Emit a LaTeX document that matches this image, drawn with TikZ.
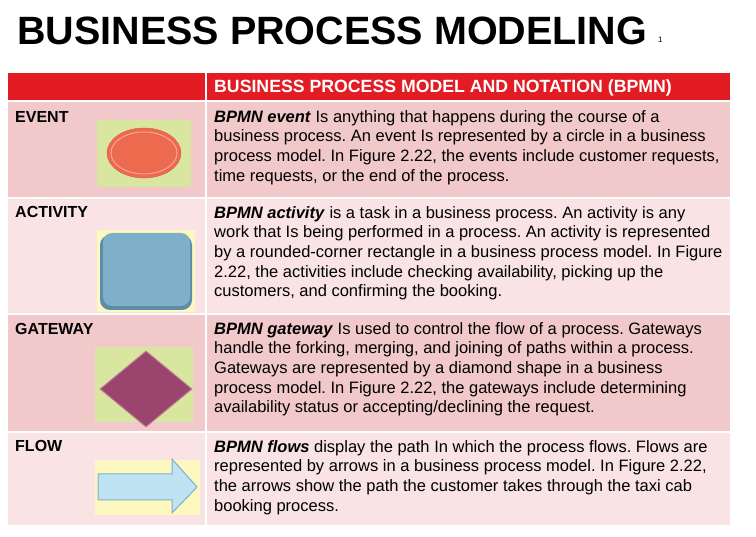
\documentclass[tikz,border=0pt]{standalone}
\usepackage{fontspec}
\setmainfont{Liberation Sans}
\usetikzlibrary{shapes.geometric}
\frenchspacing
\definecolor{hdr}{HTML}{E31B23}
\definecolor{rowd}{HTML}{F2C9CB}
\definecolor{rowl}{HTML}{F9E3E4}
\definecolor{grn}{HTML}{D8E6A0}
\definecolor{ylw}{HTML}{FDF7C0}
\definecolor{evf}{RGB}{238,106,78}
\definecolor{evd}{RGB}{220,90,65}
\definecolor{acd}{RGB}{95,140,165}
\definecolor{acf}{RGB}{127,176,201}
\definecolor{gwf}{RGB}{155,68,110}
\definecolor{gwd}{RGB}{190,120,150}
\definecolor{flf}{RGB}{191,227,242}
\tikzset{x=1pt,y=-1pt,
 lbl/.style={anchor=north west,font=\bfseries\fontsize{16}{18}\selectfont,inner sep=0},
 body/.style={anchor=north west,align=left,font=\fontsize{16.5}{19.7}\selectfont,inner sep=0}}
\begin{document}
\begin{tikzpicture}
\useasboundingbox (0,0) rectangle (756,537);
\fill[white] (0,0) rectangle (756,537);
\node[anchor=west,inner sep=0,font=\bfseries\fontsize{39.5}{40}\selectfont] (title) at (17,31) {BUSINESS PROCESS MODELING};
\node[anchor=west,inner sep=0,font=\fontsize{8}{8}\selectfont] (num) at (658,40) {1};
\fill[hdr] (8,73) rectangle (730,100);
\fill[rowd] (8,102) rectangle (730,197);
\fill[rowl] (8,199) rectangle (730,313);
\fill[rowd] (8,315) rectangle (730,431);
\fill[rowl] (8,433) rectangle (730,525);
\draw[white,line width=2] (206,73) -- (206,525);
\node[anchor=west,inner sep=0,text=white,font=\bfseries\fontsize{17.7}{18}\selectfont] (h) at (214,88) {BUSINESS PROCESS MODEL AND NOTATION (BPMN)};
\node[lbl] (l1) at (15,111) {EVENT};
\node[lbl] (l2) at (15,206) {ACTIVITY};
\node[lbl] (l3) at (15,323) {GATEWAY};
\node[lbl] (l4) at (15,440) {FLOW};
\fill[grn] (97,120) rectangle (191,187);
\node[ellipse,fill=evf,draw=evd,minimum width=74,minimum height=50,inner sep=0] (ev) at (144,153) {};
\draw[white,opacity=.4,line width=1] (144,153) ellipse [x radius=33,y radius=21];
\fill[ylw] (97,230) rectangle (195,312);
\fill[acd,rounded corners=10] (100,235) rectangle (192,310);
\fill[acf,rounded corners=9] (103,233) rectangle (190,306);
\fill[grn] (95,347) rectangle (193,422);
\node[diamond,fill=gwf,draw=gwd,line width=1,minimum width=92,minimum height=76,inner sep=0] (gw) at (146,389) {};
\fill[ylw] (95,460) rectangle (200,515);
\draw[fill=flf,draw=acf,line width=1]
 (98,474) -- (172,474) -- (172,459) -- (197,487) -- (172,513) -- (172,500) -- (98,500) -- cycle;
\node[body] (t1) at (214,110) {\textbf{\textit{BPMN event}} Is anything that happens during the course of a\\business process. An event Is represented by a circle in a business\\process model. In Figure 2.22, the events include customer requests,\\time requests, or the end of the process.};
\node[body] (t2) at (214,206) {\textbf{\textit{BPMN activity}} is a task in a business process. An activity is any\\work that Is being performed in a process. An activity is represented\\by a rounded-corner rectangle in a business process model. In Figure\\2.22, the activities include checking availability, picking up the\\customers, and confirming the booking.};
\node[body] (t3) at (214,322) {\textbf{\textit{BPMN gateway}} Is used to control the flow of a process. Gateways\\handle the forking, merging, and joining of paths within a process.\\Gateways are represented by a diamond shape in a business\\process model. In Figure 2.22, the gateways include determining\\availability status or accepting/declining the request.};
\node[body] (t4) at (214,440) {\textbf{\textit{BPMN flows}} display the path In which the process flows. Flows are\\represented by arrows in a business process model. In Figure 2.22,\\the arrows show the path the customer takes through the taxi cab\\booking process.};
\end{tikzpicture}
\end{document}
